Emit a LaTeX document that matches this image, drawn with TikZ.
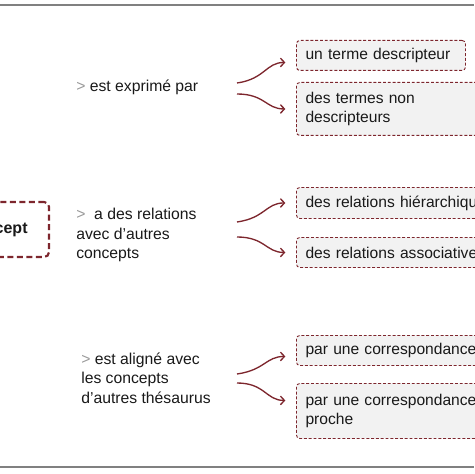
\documentclass[tikz,border=0pt]{standalone}
\usepackage{fontspec}
\setmainfont{Liberation Sans}
\usetikzlibrary{arrows.meta}
\definecolor{lienrouge}{RGB}{125,38,45}
\definecolor{fondgris}{RGB}{242,242,242}
\tikzset{
  termbox/.style={draw=lienrouge, fill=fondgris, line width=0.7pt, dash pattern=on 2.2pt off 1.4pt, rounded corners=2.5pt, anchor=north west, align=left, inner xsep=6.8pt, text width=#1, font=\fontsize{11.7}{14.4}\selectfont, text=black!90},
  termbox/.default=200pt,
  conceptbox/.style={draw=lienrouge, line width=1.6pt, dash pattern=on 4.5pt off 2.6pt, rounded corners=3.5pt, font=\bfseries\fontsize{12}{14.4}\selectfont, text=black!90},
  relbox/.style={anchor=west, align=left, inner sep=0pt, font=\fontsize{11.8}{14.6}\selectfont, text=black!90},
  lien/.style={draw=lienrouge, line width=1pt, -{Straight Barb[length=3pt,width=6.5pt]}, shorten >=8pt}
}
\newcommand{\chev}{\textcolor{gray!80}{>}}

\begin{document}
\begin{tikzpicture}[x=0.75pt, y=-0.75pt]
  \useasboundingbox (0,0) rectangle (474,474);
  % frame lines
  \draw[gray, line width=1.5pt] (0,5) -- (474,5);
  \draw[gray, line width=1.5pt] (0,467) -- (474,467);

  \node[conceptbox, anchor=east, minimum height=41.25pt, inner xsep=16pt] (concept) at (50,229.5) {Concept};

  % relations
  \node[relbox] (rel1) at (76,87) {\chev{} est exprimé par};
  \node[relbox] (rel2) at (76,235) {\chev{}\ \ a des relations\\avec d’autres\\concepts};
  \node[relbox] (rel3) at (81,378) {\chev{} est aligné avec\\les concepts\\d’autres thésaurus};

  % terms
  \node[termbox=113.15pt, minimum height=22.5pt] (t1) at (296,40) {un terme descripteur};
  \node[termbox, minimum height=39.75pt] (t2) at (296,82) {des termes non\\descripteurs};
  \node[termbox, minimum height=23.25pt] (t3) at (296,187) {des relations hiérarchiques};
  \node[termbox, minimum height=22.5pt] (t4) at (296,237) {des relations associatives};
  \node[termbox, minimum height=22.5pt] (t5) at (296,335) {par une correspondance};
  \node[termbox, minimum height=41.25pt] (t6) at (296,383) {par une correspondance\\proche};

  % arrows
  \coordinate (e1a) at (237,83);  \coordinate (e1b) at (237,94);
  \coordinate (e2a) at (237,222); \coordinate (e2b) at (237,237);
  \coordinate (e3a) at (237,374); \coordinate (e3b) at (237,383);
  \draw[lien] (e1a) .. controls +(28,-4) and +(-30,0) .. ([yshift=-5.25pt]t1.west);
  \draw[lien] (e1b) .. controls +(28,0) and +(-30,0) .. (t2.west);
  \draw[lien] (e2a) .. controls +(28,-4) and +(-30,0) .. (t3.west);
  \draw[lien] (e2b) .. controls +(28,0) and +(-30,0) .. (t4.west);
  \draw[lien] (e3a) .. controls +(28,-4) and +(-30,0) .. ([yshift=-4.5pt]t5.west);
  \draw[lien] (e3b) .. controls +(28,0) and +(-30,0) .. ([yshift=7.9pt]t6.west);
\end{tikzpicture}
\end{document}
